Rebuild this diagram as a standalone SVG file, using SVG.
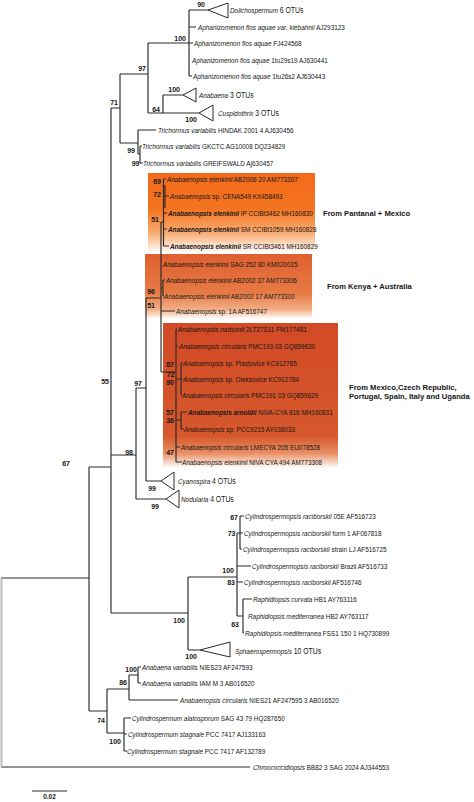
<svg xmlns="http://www.w3.org/2000/svg" width="474" height="802" viewBox="0 0 474 802">
<style>
.l{font-family:"Liberation Sans",Arial,sans-serif;font-size:8px;fill:#161616}
.i{font-style:italic}
.b{font-weight:bold}
.o{font-size:8.6px}
.bs{font-family:"Liberation Sans",Arial,sans-serif;font-size:7px;font-weight:bold;text-anchor:end;fill:#161616}
.br{fill:none;stroke:#2a2a2a;stroke-width:1.15}
.tri{fill:#fff;stroke:#2a2a2a;stroke-width:1}
.reg{font-family:"Liberation Sans",Arial,sans-serif;font-size:7.6px;font-weight:bold;fill:#161616}
</style>
<defs>
<linearGradient id="gP" x1="0" y1="0" x2="0" y2="1">
<stop offset="0" stop-color="#F26A1C"/><stop offset="0.45" stop-color="#F37420"/><stop offset="0.75" stop-color="#F8AC72"/><stop offset="1" stop-color="#FFFFFF"/>
</linearGradient>
<linearGradient id="gK" x1="0" y1="0" x2="0" y2="1">
<stop offset="0" stop-color="#DF5F30"/><stop offset="0.6" stop-color="#E77A45"/><stop offset="0.85" stop-color="#F2AE84"/><stop offset="1" stop-color="#FFFFFF"/>
</linearGradient>
<linearGradient id="gM" x1="0" y1="0" x2="0" y2="1">
<stop offset="0" stop-color="#D24A26"/><stop offset="0.78" stop-color="#D6582C"/><stop offset="0.9" stop-color="#E99066"/><stop offset="1" stop-color="#FFFFFF"/>
</linearGradient>
</defs>
<rect width="474" height="802" fill="#fff"/>

<g id="regions">
<rect x="148" y="173" width="167" height="80" fill="url(#gP)"/>
<rect x="145" y="254" width="167" height="65" fill="url(#gK)"/>
<rect x="163" y="323" width="175" height="145" fill="url(#gM)"/>
<text class="reg" x="323" y="216">From Pantanal + Mexico</text>
<text class="reg" x="327" y="289">From Kenya + Australia</text>
<text class="reg" x="349" y="390">From Mexico,Czech Republic,</text>
<text class="reg" x="349" y="399">Portugal, Spain, Italy and Uganda</text>
</g>

<g id="connectors">
<path class="br" d="M189,10H208M189,10V76M189,27H196M189,43H193M189,76H192M148,43H189M148,43V113M120,74H148M163,95H183M163,95V113M148,113H199M120,74V143M120,143H138M138,130V154M138,130H156M138,154H140M140,146V163M140,146H142M140,163H143M111,108H120M111,108V613"/>
<path class="br" d="M136,388H146M146,298V481M146,298H161M161,222V372M161,222H163.5M163.5,179V246M163.5,179H166M165,185V208M165,196H169M163.5,213H167M163.5,229H167M163.5,246H169M163,280V296M161,288H163M163,280H165M163,296H164M161,311H175"/>
<path class="br" d="M161,372H176M176,329V462M176,329H177M176,346H178M176,379H181M181,363V395M181,363H183M181,379H183M181,395H182M176,420H181M181,412V429M181,412H187M181,429H184M176,447H180M176,462H182"/>
<path class="br" d="M146,481H161M111,455H136M136,388V499M136,499H166"/>
<path class="br" d="M111,613H188M188,577V650M188,577H237M237,533V616M240,516V549M237,533H240M240,516H244M240,533H243M240,549H242M237,566H251M237,582H243M237,616H243M243,599V633M243,599H252M243,633H244M188,650H200"/>
<path class="br" d="M1,578H89M89,467H111M89,467V711M89,711H107M107,689V733M107,689H129M129,675V700M129,675H138M138,667V683M138,667H141M138,683H141M129,700H178M107,733H124M124,718V751M124,718H131M124,734H127M124,751H127M1,767H250"/>
<path d="M1.5,578V767" fill="none" stroke="#bbb" stroke-width="2"/>
</g>

<g id="bootstrap">
<text class="bs" x="205" y="7">90</text>
<text class="bs" x="186" y="41">100</text>
<text class="bs" x="146" y="71">97</text>
<text class="bs" x="180" y="92">100</text>
<text class="bs" x="160" y="111.5">64</text>
<text class="bs" x="197" y="122">100</text>
<text class="bs" x="118" y="105">71</text>
<text class="bs" x="135" y="153">99</text>
<text class="bs" x="139.5" y="166">99</text>
<text class="bs" x="161" y="184">69</text>
<text class="bs" x="161" y="197">72</text>
<text class="bs" x="159" y="222">51</text>
<text class="bs" x="155" y="294">96</text>
<text class="bs" x="155" y="308">51</text>
<text class="bs" x="174" y="367">87</text>
<text class="bs" x="174.5" y="377">72</text>
<text class="bs" x="174" y="385">90</text>
<text class="bs" x="142" y="386">97</text>
<text class="bs" x="174" y="415">57</text>
<text class="bs" x="174" y="423">36</text>
<text class="bs" x="174" y="455">47</text>
<text class="bs" x="133" y="455">98</text>
<text class="bs" x="156" y="491">99</text>
<text class="bs" x="159" y="509">99</text>
<text class="bs" x="109" y="384">55</text>
<text class="bs" x="70" y="466">67</text>
<text class="bs" x="238" y="520">67</text>
<text class="bs" x="235.5" y="536">73</text>
<text class="bs" x="234" y="573">100</text>
<text class="bs" x="235" y="585">83</text>
<text class="bs" x="239" y="627">63</text>
<text class="bs" x="185" y="623">100</text>
<text class="bs" x="197" y="659">100</text>
<text class="bs" x="137" y="672">100</text>
<text class="bs" x="127" y="685">86</text>
<text class="bs" x="105" y="723">74</text>
<text class="bs" x="121" y="744">100</text>
</g>

<g id="leaf-dolichospermum"><path class="tri" d="M208,10L228,3V18Z"/><text class="l" transform="translate(230,12.8) scale(0.8,1)"><tspan class="i">Dolichospermum</tspan> <tspan class="o">6 OTUs</tspan></text></g>
<g id="leaf-aph1"><text class="l" transform="translate(198,29.8) scale(0.8,1)"><tspan class="i">Aphanizomenon flos aquae var. klebahnii</tspan> AJ293123</text></g>
<g id="leaf-aph2"><text class="l" transform="translate(194,45.8) scale(0.8,1)"><tspan class="i">Aphanizomenon flos aquae</tspan> FJ424568</text></g>
<g id="leaf-aph3"><text class="l" transform="translate(192,62.8) scale(0.8,1)"><tspan class="i">Aphanizomenon flos aquae</tspan> 1tu29s19 AJ630441</text></g>
<g id="leaf-aph4"><text class="l" transform="translate(193,78.8) scale(0.8,1)"><tspan class="i">Aphanizomenon flos aquae</tspan> 1tu26s2 AJ630443</text></g>
<g id="leaf-anabaena"><path class="tri" d="M183,95L196,88V102Z"/><text class="l" transform="translate(199,97.8) scale(0.8,1)"><tspan class="i">Anabaena</tspan>  <tspan class="o">3 OTUs</tspan></text></g>
<g id="leaf-cuspidothrix"><path class="tri" d="M199,113L213,105V121Z"/><text class="l" transform="translate(218,115.8) scale(0.8,1)"><tspan class="i">Cuspidothrix</tspan>  <tspan class="o">3 OTUs</tspan></text></g>
<g id="leaf-tri1"><text class="l" transform="translate(158,132.8) scale(0.8,1)"><tspan class="i">Trichormus variabilis</tspan> HINDAK 2001 4 AJ630456</text></g>
<g id="leaf-tri2"><text class="l" transform="translate(142,148.8) scale(0.8,1)"><tspan class="i">Trichormus variabilis</tspan> GKCTC AG10008 DQ234829</text></g>
<g id="leaf-tri3"><text class="l" transform="translate(143,165.8) scale(0.8,1)"><tspan class="i">Trichormus variabilis</tspan> GREIFSWALD Aj630457</text></g>
<g id="leaf-p1"><text class="l" transform="translate(167,181.8) scale(0.8,1)"><tspan class="i">Anabaenopsis elenkinii</tspan> AB2006 20 AM773307</text></g>
<g id="leaf-p2"><text class="l" transform="translate(170,198.8) scale(0.8,1)"><tspan class="i">Anabaenopsis</tspan> sp. CENA549 KX458493</text></g>
<g id="leaf-p3"><text class="l" transform="translate(168,215.8) scale(0.8,1)"><tspan class="i b">Anabaenopsis elenkinii</tspan> IP CCIBt3462 MH160830</text></g>
<g id="leaf-p4"><text class="l" transform="translate(168,231.8) scale(0.8,1)"><tspan class="i b">Anabaenopsis elenkinii</tspan> SM CCIBt1059 MH160828</text></g>
<g id="leaf-p5"><text class="l" transform="translate(170,248.8) scale(0.8,1)"><tspan class="i b">Anabaenopsis elenkinii</tspan> SR CCIBt3461 MH160829</text></g>
<g id="leaf-k1"><text class="l" transform="translate(163,266.8) scale(0.8,1)"><tspan class="i">Anabaenopsis elenkinii</tspan> SAG 252 80 KM020015</text></g>
<g id="leaf-k2"><text class="l" transform="translate(166,282.8) scale(0.8,1)"><tspan class="i">Anabaenopsis elenkinii</tspan> AB2002 37 AM773306</text></g>
<g id="leaf-k3"><text class="l" transform="translate(164,298.8) scale(0.8,1)"><tspan class="i">Anabaenopsis elenkinii</tspan> AB2002 17 AM773300</text></g>
<g id="leaf-k4"><text class="l" transform="translate(176,313.8) scale(0.8,1)"><tspan class="i">Anabaenopsis</tspan> sp. 1A AF516747</text></g>
<g id="leaf-m1"><text class="l" transform="translate(178,331.8) scale(0.8,1)"><tspan class="i">Anabaenopsis nadsonii</tspan> 2LT27S11 FM177481</text></g>
<g id="leaf-m2"><text class="l" transform="translate(179,348.8) scale(0.8,1)"><tspan class="i">Anabaenopsis circularis</tspan> PMC193 03 GQ859630</text></g>
<g id="leaf-m3"><text class="l" transform="translate(183,365.8) scale(0.8,1)"><tspan class="i">Anabaenopsis</tspan> sp. Plastovice KC912785</text></g>
<g id="leaf-m4"><text class="l" transform="translate(183,381.8) scale(0.8,1)"><tspan class="i">Anabaenopsis</tspan> sp. Oleksovice KC912784</text></g>
<g id="leaf-m5"><text class="l" transform="translate(182,397.8) scale(0.8,1)"><tspan class="i">Anabaenopsis circularis</tspan> PMC191 03 GQ859629</text></g>
<g id="leaf-m6"><text class="l" transform="translate(188,414.8) scale(0.8,1)"><tspan class="i b">Anabaenopsis arnoldii</tspan>  NIVA-CYA 816 MH160831</text></g>
<g id="leaf-m7"><text class="l" transform="translate(184,431.8) scale(0.8,1)"><tspan class="i">Anabaenopsis</tspan> sp. PCC9215 AY038033</text></g>
<g id="leaf-m8"><text class="l" transform="translate(181,449.8) scale(0.8,1)"><tspan class="i">Anabaenopsis circularis</tspan> LMECYA 205 EU078528</text></g>
<g id="leaf-m9"><text class="l" transform="translate(182,464.8) scale(0.8,1)"><tspan class="i">Anabaenopsis elenkinii</tspan> NIVA CYA 494 AM773308</text></g>
<g id="leaf-cyanospira"><path class="tri" d="M161,481L174,472V490Z"/><text class="l" transform="translate(178,483.8) scale(0.8,1)"><tspan class="i">Cyanospira</tspan>  <tspan class="o">4 OTUs</tspan></text></g>
<g id="leaf-nodularia"><path class="tri" d="M166,499L179,490V508Z"/><text class="l" transform="translate(181,501.8) scale(0.8,1)"><tspan class="i">Nodularia</tspan>  <tspan class="o">4 OTUs</tspan></text></g>
<g id="leaf-c1"><text class="l" transform="translate(245,518.8) scale(0.8,1)"><tspan class="i">Cylindrospermopsis raciborskii</tspan> 05E AF516723</text></g>
<g id="leaf-c2"><text class="l" transform="translate(244,535.8) scale(0.8,1)"><tspan class="i">Cylindrospermopsis raciborskii</tspan> form 1 AF067818</text></g>
<g id="leaf-c3"><text class="l" transform="translate(243,551.8) scale(0.8,1)"><tspan class="i">Cylindrospermopsis raciborskii</tspan> strain LJ AF516725</text></g>
<g id="leaf-c4"><text class="l" transform="translate(252,568.8) scale(0.8,1)"><tspan class="i">Cylindrospermopsis raciborskii</tspan> Brazil AF516733</text></g>
<g id="leaf-c5"><text class="l" transform="translate(244,584.8) scale(0.8,1)"><tspan class="i">Cylindrospermopsis raciborskii</tspan> AF516746</text></g>
<g id="leaf-r1"><text class="l" transform="translate(253,601.8) scale(0.8,1)"><tspan class="i">Raphidiopsis curvata</tspan> HB1 AY763116</text></g>
<g id="leaf-r2"><text class="l" transform="translate(248,618.8) scale(0.8,1)"><tspan class="i">Raphidiopsis mediterranea</tspan> HB2 AY763117</text></g>
<g id="leaf-r3"><text class="l" transform="translate(245,635.8) scale(0.8,1)"><tspan class="i">Raphidiopsis mediterranea</tspan> FSS1 150 1 HQ730899</text></g>
<g id="leaf-sphaero"><path class="tri" d="M200,650L230,642V657Z"/><text class="l" transform="translate(235,653.8) scale(0.8,1)"><tspan class="i">Sphaerospermopsis</tspan>  <tspan class="o">10 OTUs</tspan></text></g>
<g id="leaf-av1"><text class="l" transform="translate(142,669.8) scale(0.8,1)"><tspan class="i">Anabaena variabilis</tspan> NIES23 AF247593</text></g>
<g id="leaf-av2"><text class="l" transform="translate(142,685.8) scale(0.8,1)"><tspan class="i">Anabaena variabilis</tspan> IAM M 3 AB016520</text></g>
<g id="leaf-ac"><text class="l" transform="translate(180,702.8) scale(0.8,1)"><tspan class="i">Anabaenopsis circularis</tspan> NIES21 AF247595 3 AB016520</text></g>
<g id="leaf-cy1"><text class="l" transform="translate(132,720.8) scale(0.8,1)"><tspan class="i">Cylindrospermum alatosporum</tspan> SAG 43 79 HQ287650</text></g>
<g id="leaf-cy2"><text class="l" transform="translate(128,736.8) scale(0.8,1)"><tspan class="i">Cylindrospermum stagnale</tspan> PCC 7417 AJ133163</text></g>
<g id="leaf-cy3"><text class="l" transform="translate(127,753.8) scale(0.8,1)"><tspan class="i">Cylindrospermum stagnale</tspan> PCC 7417 AF132789</text></g>
<g id="leaf-chroo"><text class="l" transform="translate(253,769.8) scale(0.8,1)"><tspan class="i">Chroococcidiopsis</tspan> BB82 3 SAG 2024 AJ344553</text></g>

<g id="scale-bar">
<path d="M32,791H67" stroke="#2a2a2a" stroke-width="1.2"/>
<text x="49.5" y="799" font-family="Liberation Sans, Arial, sans-serif" font-size="6.5" font-weight="bold" text-anchor="middle" fill="#161616">0.02</text>
</g>
</svg>
